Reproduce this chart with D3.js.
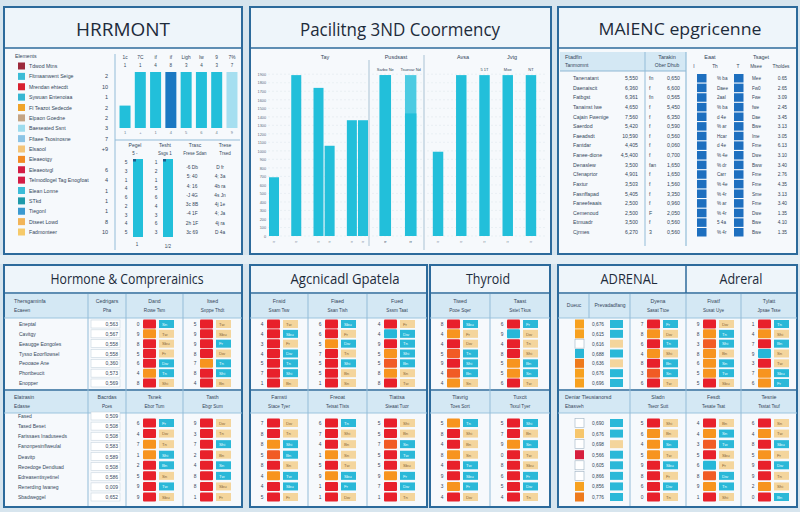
<!DOCTYPE html>
<html>
<head>
<meta charset="utf-8">
<script src="https://cdn.jsdelivr.net/npm/d3@7/dist/d3.min.js"></script>
<style>
  html, body { margin: 0; padding: 0; background: #d7e5ee; }
  svg { display: block; }
</style>
</head>
<body>
<svg id="chart"></svg>
<script>
// ---- values ----
const panelTitles = ['HRRMONT', 'Pacilitng 3ND Coormency', 'MAIENC epgricenne', 'Hormone & Comprerainics',
  'Agcnicadl Gpatela', 'Thyroid', 'ADRENAL', 'Adreral']

// top left: legend list
const legendLabels = ['Tdwod Mtns', 'Fltmaanwent Seige', 'Mrendan ehtecdt', 'Sywuan Entenoiaa', 'Fl Teazot Sedecde',
  'Elpaon Goedne', 'Baeseated Ssnt', 'Ffiaee Tsosinosne', 'Elsaool', 'Eleaeotgy', 'Eleaeotvgl',
  'Telmodlogel Tag Enogfoat', 'Elean Lonne', 'STkd', 'Tiegonl', 'Dtseet Lowd', 'Fadmonteer']
const legendCounts = ['', '2', '10', '1', '2', '2', '3', '7', '+9', '', '6', '4', '1', '1', '1', '8', '10']
const legendColors = ['#9c2a3c', '#3cbcd6', '#d8202e', '#36b6d2', '#f0a42a', '#c4a484', '#9edcee', '#8cc4e6',
  '#f4c478', '#f28a24', '#d41c44', '#d41c44', '#3cbcd8', '#1f9aaa', '#3c9ad0', '#f2b458', '#f6ca6a']

// top left: bars
const hormCols = ['1c', '7C', 'if', 'if', 'Ligh', 'Iw', '9', '7%']
const hormNums = ['1', '1', '4', '8', '3', '4', '3', '7']
const hormVals = [4, 10, 10, 10, 10, 10, 10, 10]
const hormTicks = ['1', '+', '1', '4', '5', '6', '4', '9']

// top left: small table under the bars
const subHeads = ['Pegel', 'Tesht', 'Trasc', 'Trese']
const subSubs = ['5  -', 'Ssgs  1', 'Frese Sdan', 'Trsed']
const subBarVals = [10, 10]
const subDigitsA = ['5', '3', '1', '4', '6', '2', '3', '4', '5']
const subDigitsB = ['1', '2', '1', '5', '6', '4', '3', '6', '3']
const subColC = ['-6 Db', '5: 40', '4: 16', '-J 4G', '3c 8B', '-4 1F', '2h 1F', '3c 69']
const subColD = ['D fr', '4; 3a', '4b ra', '4s Jn', '4j 1e', '4; Ja', '4j ra', 'D 4a']

// top middle: three bar groups
const payHeads = ['Tay', 'Pusdsast', 'Avsa', 'Jvtg']
const payLeftCats = ['a1', 'g1', 'a2', 'g2', 'a3', 'a4', 'g3', 'a5', 'a6']
const payLeftVals = [69, null, 189, null, 174, 106, null, 136, 136]
const payMidCats = ['Sarbo Ne', 'Tsuevar Nd']
const payMidVals = [189, 189]
const payMidLower = [189, 144]
const payRightCats = ['r1', 'r2', '5 1T', 'Moe', 'NT']
const payRightVals = [99, 189, 189, 189, 189]

// top right: table
const maiNames = ['Tanenatant', 'Daenaiscit', 'Fatbgst', 'Tanainst Iwe', 'Cajain Fwenige', 'Saerdod', 'Faeadsdt',
  'Fantdar', 'Fanee-dione', 'Denaslew', 'Cfenaprtor', 'Faxtur', 'Fasnffapad', 'Faneefeaais', 'Cemenoud', 'Etmuadr', 'Cjrmes']
const maiVal1 = ['5,550', '6,360', '6,361', '4,650', '7,560', '5,420', '10,590', '4,405', '4,5,400', '3,500', '4,901',
  '3,503', '5,405', '2,500', '2,500', '3,500', '6,270']
const maiFlag = ['fn', 'f', 'fn', 'f', 'f', 'f', 'f', 'f', 'f', 'fan', 'f', 'f', 'f', 'f', 'F', 'f', '3']
const maiVal2 = ['0,650', '6,600', '0,565', '5,450', '6,350', '0,590', '0,560', '0,060', '0,700', '1,650', '1,650',
  '1,560', '3,350', '0,960', '2,050', '0,560', '0,560']
const maiNote1 = ['% ba', 'Daee', '2aal', '% ba', 'd 4e', '% ar', 'Hcar', 'd 4e', '% 4e', '% dr', 'Carr', '% 4e',
  '% 4r', '% ar', '% 4r', '5 4a', '% 4r']
const maiNote2 = ['Mee', 'Fw0', 'Fwe', 'fwe', 'Dae', 'Bwe', 'Ime', 'Fme', 'Dwe', 'Bww', 'Fme', 'Fme', 'Sme', 'Fme',
  'Dwe', 'Bwe', 'Bwe']
const maiScore = ['0.65', '2.65', '3.09', '2.45', '3.45', '3.13', '3.05', '6.13', '3.10', '3.40', '2.76', '4.35',
  '3.13', '3.40', '1.35', '4.10', '1.35']

// bottom blocks: R red, O orange, D deep orange, C cyan ; tags: C cyan, T tan
const hcLabels1 = ['Eneptal', 'Cavitgy', 'Eeaugge Eongoles', 'Tysso Eoorflowsel', 'Peooaoe Ane', 'Phortbeucit', 'Enopper']
const hcValues1 = ['0,563', '0,567', '0,558', '0,558', '0,360', '0,573', '0,569']
const hcLabels2 = ['Fased', 'Tased Beset', 'Farissaes Inaduseeds', 'Fanonpesinflweulal', 'Deavitp',
  'Reoedoge Dendiuad', 'Edreasentisyetinel', 'Renerding Iwaneg', 'Sbadweggel']
const hcValues2 = ['0,509', '0,508', '0,508', '0,583', '0,589', '0,508', '0,586', '0,009', '0,652']
const hcHeads1 = [['Thersgaminfa', 'Ecaeen'], ['Cedrigars', 'Pha'], ['Dand', 'Rowe  Tsm'], ['Itsed', 'Sxppe  Thdt']]
const hcHeads2 = [['Elatrasin', 'Edasse'], ['Bacrdas', 'Pces'], ['Tsnek', 'Ebor  Tum'], ['Tasth', 'Ebgr  Sum']]
const hcBlocks1 = ['RORRROR', 'RRRRORR']
const hcTags1 = ['CTTTCCT', 'TTCTCCT']
const hcDigits1 = ['0985648', '5998784']
const hcBlocks2 = ['RROORRRR', 'RRRRRRRR']
const hcTags2 = ['CTTCCTCT', 'TTCTCCTT']
const hcDigits2 = ['64712599', '93724881']

const agHeads1 = [['Fnsid', 'Ssam  Tsw'], ['Fiaed', 'Ssan  Tish'], ['Fued', 'Sssm  Taat']]
const agHeads2 = [['Famsti', 'Stace  Tyer'], ['Freoat', 'Tetsat  Tlsts'], ['Tiattsa', 'Steaat  Tuor']]
const agBlocks1 = ['RRRRRRR', 'RRORRRR', 'RCRODOR']
const agTags1 = ['TCTCCCT', 'CTCTCTT', 'TCCCCTT']
const agDigits1 = ['4434571', '6657551', '4495588']
const agBlocks2 = ['RRODRORR', 'RRRORORR', 'RRDRRORR']
const agTags2 = ['TTCCTCCT', 'CTTTTCCT', 'TTCCTCCT']
const agDigits2 = ['78858445', '67415911', '55755971']

const thHeads1 = [['Tiwed', 'Pooe  Sqer'], ['Taast', 'Sstet  Tkus']]
const thHeads2 = [['Tlavrig', 'Toes  Sort'], ['Tuxcit', 'Tsxul  Tyer']]
const thBlocks1 = ['RORDRDO', 'RCRROOR']
const thTags1 = ['CTTCCCT', 'CTTTCCT']
const thDigits1 = ['8445944', '6948556']
const thBlocks2 = ['ORRORROR', 'RRORRRRR']
const thTags2 = ['CTTTCCCT', 'CTCTTCCT']
const thDigits2 = ['58484934', '57908654']

// adrenal: W white, L light orange squares in the first column
const adHeads1 = [['Dyena', 'Sasat  Ttoe'], ['Fivatf', 'Susat  Uye'], ['Tylatt', 'Jpsae  Tsse']]
const adHeads2 = [['Sladn', 'Tseor  Sutt'], ['Fesdt', 'Tesate  Tsat'], ['Tesnie', 'Tsstat  Tsuf']]
const adSquares1 = 'OOWCDOO'
const adValues1 = ['0,676', '0,615', '0,616', '0,688', '0,636', '0,676', '0,696']
const adValTags1 = 'CCTCTCC'
const adBlocks1 = ['RORORDR', 'RODOOOR', 'RORCROO']
const adTags1 = ['CTCTCCT', 'TCCTCCT', 'CTCTTCC']
const adDigits1 = ['7864836', '9838655', '1479376']
const adSquares2 = 'WLWRWWOD'
const adValues2 = ['0,690', '0,676', '0,698', '0,566', '0,605', '0,866', '0,856', '0,776']
const adValTags2 = 'CCTCCCCC'
const adBlocks2 = ['ROOORRRR', 'RODRCDOR', 'RORORROR']
const adTags2 = ['TTCTCTCT', 'TCCTTCCT', 'TTCTCTTC']
const adDigits2 = ['56459860', '44356891', '64859920']

// ---- drawing ----
const svg = d3.select('#chart').attr('width', 800).attr('height', 512)
const SANS = "'Liberation Sans', Arial, sans-serif"
const HEAD = "'Open Sans', 'Noto Sans', sans-serif"
const INK = '#34475b'
const FRAME = '#2c6a9b'
const SEP = '#93bcd8'
const CYAN = '#22bfda'
const BLOCK = { R: '#e8202b', O: '#f7941f', D: '#f15b25', C: '#26b7d8' }
const TAG = { C: '#2ab8d8', T: '#f4d59c' }
const SQ = { O: '#f7a11f', W: '#ffffff', C: '#2ab6d6', D: '#ee7a1c', R: '#d71f3d', L: '#f6c66c' }
const tagWords = ['Sn', 'Tw', 'Sbu', 'Fr', 'Dw', 'Tn', 'Shi', 'Bn']

svg.append('rect').attr('width', 800).attr('height', 512).attr('fill', '#d7e5ee')
svg.append('rect').attr('y', 255).attr('width', 800).attr('height', 9).attr('fill', '#e4eef4')

function put(g, x, y, s, size, o = {}) {
  return g.append('text').attr('x', x).attr('y', y)
    .attr('font-family', o.font || SANS).attr('font-size', size)
    .attr('fill', o.fill || INK).attr('text-anchor', o.anchor || 'start').text(s)
}
function rule(g, x1, y1, x2, y2, color, w) {
  g.append('line').attr('x1', x1).attr('y1', y1).attr('x2', x2).attr('y2', y2)
    .attr('stroke', color).attr('stroke-width', w)
}
function frame(x0, y0, x1, y1, barBottom) {
  const g = svg.append('g')
  g.append('rect').attr('x', x0).attr('y', y0).attr('width', x1 - x0).attr('height', y1 - y0)
    .attr('fill', '#f6f9fc').attr('stroke', FRAME).attr('stroke-width', 2)
  g.append('rect').attr('x', x0 + 1).attr('y', y0 + 1).attr('width', x1 - x0 - 2).attr('height', barBottom - y0 - 1)
    .attr('fill', '#eef5fa')
  rule(g, x0, barBottom, x1, barBottom, FRAME, 1.5)
  return g
}
function title(g, x, y, s, size, len) {
  put(g, x, y, s, size, { font: HEAD, fill: '#1d2b3a', anchor: 'middle' })
    .attr('textLength', len).attr('lengthAdjust', 'spacingAndGlyphs')
}
function texts(g, data, x, y, size, o = {}) {
  return g.append('g').selectAll('text').data(data).join('text')
    .attr('x', x).attr('y', y)
    .attr('font-family', SANS).attr('font-size', size)
    .attr('fill', o.fill || INK).attr('text-anchor', o.anchor || 'start')
    .text(d => d)
}

// ===== panel A : HRRMONT =====
const gA = frame(4, 7, 242, 254, 48)
title(gA, 123, 36, panelTitles[0], 19, 94)
rule(gA, 115, 54, 115, 250, SEP, 1)
rule(gA, 115, 140, 240, 140, SEP, 1)
put(gA, 15, 58, 'Elements', 5.2)

const legY = d3.scalePoint().domain(d3.range(legendLabels.length)).range([66, 232])
gA.append('g').selectAll('rect').data(legendColors).join('rect')
  .attr('x', 18).attr('y', (d, i) => legY(i) - 3.5).attr('width', 7).attr('height', 7).attr('fill', d => d)
texts(gA, legendLabels, 29, (d, i) => legY(i) + 2, 5.2)
texts(gA, legendCounts, 108, (d, i) => legY(i) + 2, 5.5, { anchor: 'end' })

const hx = d3.scaleBand().domain(d3.range(hormVals.length)).range([118, 239]).paddingInner(0.28).paddingOuter(0.1)
const hy = d3.scaleLinear().domain([0, 10]).range([128, 72])
gA.append('g').selectAll('rect').data(hormVals).join('rect')
  .attr('x', (d, i) => hx(i)).attr('y', d => hy(d)).attr('width', hx.bandwidth()).attr('height', d => hy(0) - hy(d))
  .attr('fill', (d, i) => i === 3 ? '#1b78c2' : i === 7 ? '#a6dff0' : CYAN)
texts(gA, hormCols, (d, i) => hx(i) + hx.bandwidth() / 2, 59, 4.8, { anchor: 'middle' })
texts(gA, hormNums, (d, i) => hx(i) + hx.bandwidth() / 2, 67, 4.5, { anchor: 'middle' })
texts(gA, hormTicks, (d, i) => hx(i) + hx.bandwidth() / 2, 134, 4, { anchor: 'middle', fill: '#6a7c8c' })

const sx = d3.scaleBand().domain(subHeads).range([120, 240])
const sRow = d3.scalePoint().domain(d3.range(subDigitsA.length)).range([162, 232])
const sRow2 = d3.scalePoint().domain(d3.range(subColC.length)).range([167, 232])
const sy = d3.scaleLinear().domain([0, 10]).range([237, 159])
texts(gA, subHeads, d => sx(d) + 15, 147, 5, { anchor: 'middle' })
texts(gA, subSubs, (d, i) => sx(subHeads[i]) + 15, 154.5, 4.5, { anchor: 'middle' })
gA.append('g').selectAll('rect').data(subBarVals).join('rect')
  .attr('x', (d, i) => sx(subHeads[i]) + 13).attr('y', d => sy(d)).attr('width', 10).attr('height', d => sy(0) - sy(d))
  .attr('fill', CYAN)
gA.append('g').selectAll('rect').data(subBarVals).join('rect')
  .attr('x', (d, i) => sx(subHeads[i]) + 13).attr('y', d => sy(d)).attr('width', 3).attr('height', 2.5)
  .attr('fill', '#1e5f8c')
texts(gA, subDigitsA, sx(subHeads[0]) + 6, (d, i) => sRow(i) + 2, 4.8, { anchor: 'middle' })
texts(gA, subDigitsB, sx(subHeads[1]) + 6, (d, i) => sRow(i) + 2, 4.8, { anchor: 'middle' })
texts(gA, subColC, sx(subHeads[2]) + 12, (d, i) => sRow2(i) + 2, 4.8, { anchor: 'middle' })
texts(gA, subColD, sx(subHeads[3]) + 10, (d, i) => sRow2(i) + 2, 4.8, { anchor: 'middle' })
put(gA, 137, 246, '1', 4.5, { anchor: 'middle' })
put(gA, 168, 248, '1/2', 4.5, { anchor: 'middle' })

// ===== panel B : bars =====
const gB = frame(250, 7, 551, 254, 48)
title(gB, 400, 36, panelTitles[1], 18, 200)
const payY = d3.scaleLinear().domain([0, 195]).range([236, 70])
const payTicks = d3.range(0, 191, 10)
const paySections = [[268, 368], [372, 423], [427, 547]]
gB.append('g').selectAll('line').data(paySections.flatMap(s => payTicks.map(t => [s, t]))).join('line')
  .attr('x1', d => d[0][0]).attr('x2', d => d[0][1]).attr('y1', d => payY(d[1])).attr('y2', d => payY(d[1]))
  .attr('stroke', '#e1e9ef').attr('stroke-width', 0.6).attr('stroke-dasharray', '2,2')
gB.append('g').attr('transform', 'translate(267,0)')
  .call(d3.axisLeft(payY).tickValues(payTicks).tickSize(0).tickPadding(1).tickFormat(d => d * 10))
  .call(g => g.select('.domain').remove())
  .selectAll('text').attr('font-size', 3.8).attr('fill', '#5a6b7b').attr('font-family', SANS)
rule(gB, 369, 60, 369, 246, '#a9c2d4', 1)
rule(gB, 424, 55, 424, 250, '#a9c2d4', 1)

const plx = d3.scaleBand().domain(payLeftCats).range([269, 368]).paddingInner(0.1)
const pmx = d3.scaleBand().domain(payMidCats).range([372, 424]).paddingInner(0.55).paddingOuter(0.3)
const prx = d3.scaleBand().domain(payRightCats).range([427, 542]).paddingInner(0.55).paddingOuter(0.25)
function payBars(scale, cats, vals, fill) {
  const rows = cats.map((c, i) => ({ c, v: vals[i] })).filter(d => d.v != null)
  gB.append('g').selectAll('rect').data(rows).join('rect')
    .attr('x', d => scale(d.c)).attr('y', d => payY(d.v)).attr('width', scale.bandwidth())
    .attr('height', d => payY(0) - payY(d.v)).attr('fill', fill)
  gB.append('g').selectAll('text').data(rows).join('text')
    .attr('x', d => scale(d.c) + scale.bandwidth() / 2).attr('y', 243).attr('text-anchor', 'middle')
    .attr('font-family', SANS).attr('font-size', 3.5).attr('fill', '#7a8a98').text('rr')
}
payBars(plx, payLeftCats, payLeftVals, CYAN)
payBars(pmx, payMidCats, payMidVals, '#4ccbe2')
payBars(pmx, payMidCats, payMidLower, CYAN)
payBars(prx, payRightCats, payRightVals, CYAN)
put(gB, 325, 59, payHeads[0], 5.5, { anchor: 'middle' })
put(gB, 396, 59, payHeads[1], 5.5, { anchor: 'middle' })
put(gB, 463, 59, payHeads[2], 5.5, { anchor: 'middle' })
put(gB, 512, 59, payHeads[3], 5.5, { anchor: 'middle' })
texts(gB, payMidCats, d => pmx(d) + pmx.bandwidth() / 2, 71, 4, { anchor: 'middle' })
texts(gB, payRightCats.slice(2), d => prx(d) + prx.bandwidth() / 2, 71, 4, { anchor: 'middle' })

// ===== panel C : table =====
const gC = frame(558, 7, 797, 254, 48)
title(gC, 680, 35, panelTitles[2], 17, 163)
gC.append('rect').attr('x', 560).attr('y', 52).attr('width', 126).attr('height', 19).attr('fill', '#d4e8f4')
rule(gC, 560, 71, 686, 71, '#8fb8d4', 1)
rule(gC, 645, 52, 645, 246, SEP, 1)
rule(gC, 686, 52, 686, 246, SEP, 1.2)
put(gC, 565, 59, 'Ftadfin', 5.5)
put(gC, 565, 67, 'Tanmomnt', 5)
put(gC, 667, 59, 'Tarakin', 5.5, { anchor: 'middle' })
put(gC, 667, 67, 'Ober   Dhub', 5, { anchor: 'middle' })
put(gC, 710, 59, 'Eaat', 5.5, { anchor: 'middle' })
put(gC, 761, 59, 'Tsaget', 5.5, { anchor: 'middle' })
;[['I', 694], ['Th', 715], ['T', 738], ['Msee', 756], ['Tholdes', 781]].forEach(d => put(gC, d[1], 68, d[0], 4.8, { anchor: 'middle' }))

const maiY = d3.scalePoint().domain(d3.range(maiNames.length)).range([78, 232])
texts(gC, maiNames, 573, (d, i) => maiY(i) + 2, 5.2)
texts(gC, maiVal1, 638, (d, i) => maiY(i) + 2, 5.2, { anchor: 'end' })
texts(gC, maiFlag, 649, (d, i) => maiY(i) + 2, 5.2)
texts(gC, maiVal2, 680, (d, i) => maiY(i) + 2, 5.2, { anchor: 'end' })
gC.append('g').selectAll('rect').data(maiNames.flatMap((d, i) => [[i, 697], [i, 734]])).join('rect')
  .attr('x', d => d[1]).attr('y', d => maiY(d[0]) - 4).attr('width', 9.5).attr('height', 8.5).attr('fill', '#1d6fbf')
texts(gC, maiNote1, 717, (d, i) => maiY(i) + 2, 4.6)
texts(gC, maiNote2, 752, (d, i) => maiY(i) + 2, 4.6)
texts(gC, maiScore, 787, (d, i) => maiY(i) + 2, 4.8, { anchor: 'end' })

// ===== bottom panels =====
const rowY1 = d3.scalePoint().domain(d3.range(7)).range([324, 383])
const rowY2 = d3.scalePoint().domain(d3.range(8)).range([423, 497])

function blockCol(g, x0, rowY, blocks, tags, digits, k) {
  const rows = blocks.split('').map((b, i) => ({ b, t: tags[i], d: digits[i], i }))
  const c = g.append('g')
  c.selectAll('text.d').data(rows).join('text').attr('class', 'd')
    .attr('x', x0 + 12).attr('y', r => rowY(r.i) + 2).attr('text-anchor', 'middle')
    .attr('font-family', SANS).attr('font-size', 4.8).attr('fill', INK).text(r => r.d)
  c.selectAll('rect.b').data(rows).join('rect').attr('class', 'b')
    .attr('x', x0 + 17).attr('y', r => rowY(r.i) - 4.5).attr('width', 13).attr('height', 9).attr('rx', 1)
    .attr('fill', r => BLOCK[r.b])
  c.selectAll('rect.t').data(rows).join('rect').attr('class', 't')
    .attr('x', x0 + 33).attr('y', r => rowY(r.i) - 4).attr('width', 15).attr('height', 8)
    .attr('fill', r => TAG[r.t])
  c.selectAll('text.t').data(rows).join('text').attr('class', 't')
    .attr('x', x0 + 36).attr('y', r => rowY(r.i) + 1.8)
    .attr('font-family', SANS).attr('font-size', 4.3)
    .attr('fill', r => r.t === 'C' ? '#e6fbff' : '#8a6a3a')
    .text(r => tagWords[(r.i + k) % tagWords.length])
}
function headBand(g, x0, x1, y0, y1) {
  g.append('rect').attr('x', x0 + 1).attr('y', y0).attr('width', x1 - x0 - 2).attr('height', y1 - y0).attr('fill', '#d4e8f4')
  rule(g, x0, y1, x1, y1, '#9cc5de', 1)
}
function headTexts(g, seps, heads, y) {
  heads.forEach((h, i) => {
    const cx = (seps[i] + seps[i + 1]) / 2
    put(g, cx, y, h[0], 5.2, { anchor: 'middle' })
    put(g, cx, y + 9, h[1], 4.6, { anchor: 'middle' })
  })
}
function bottomFrame(x0, x1) {
  const g = frame(x0, 265, x1, 507, 293)
  headBand(g, x0, x1, 294, 318)
  headBand(g, x0, x1, 391, 413)
  rule(g, x0, 390, x1, 390, FRAME, 1.5)
  return g
}
function seps(g, xs) {
  xs.forEach(x => rule(g, x, 294, x, 506, SEP, 1))
}

// panel D
const dSeps = [4, 88, 126, 183, 242]
const gD = bottomFrame(4, 242)
title(gD, 127, 284, panelTitles[3], 15, 153)
seps(gD, dSeps.slice(1, -1))
put(gD, 14, 303, hcHeads1[0][0], 5.2); put(gD, 14, 312, hcHeads1[0][1], 4.8)
put(gD, 14, 399, hcHeads2[0][0], 5.2); put(gD, 14, 408, hcHeads2[0][1], 4.8)
headTexts(gD, dSeps.slice(1), hcHeads1.slice(1), 303)
headTexts(gD, dSeps.slice(1), hcHeads2.slice(1), 399)
const rowL2 = d3.scalePoint().domain(d3.range(hcLabels2.length)).range([416, 497])
texts(gD, hcLabels1, 19, (d, i) => rowY1(i) + 2, 5)
texts(gD, hcLabels2, 18, (d, i) => rowL2(i) + 2, 5)
;[[hcValues1, rowY1], [hcValues2, rowL2]].forEach(([vals, ry]) => {
  gD.append('g').selectAll('rect').data(vals).join('rect')
    .attr('x', 91).attr('y', (d, i) => ry(i) - 4).attr('width', 29).attr('height', 8)
    .attr('fill', '#ffffff').attr('stroke', '#c9d6e0').attr('stroke-width', 0.6)
  texts(gD, vals, 118, (d, i) => ry(i) + 2, 5, { anchor: 'end' })
})
hcBlocks1.forEach((b, j) => blockCol(gD, dSeps[2 + j], rowY1, b, hcTags1[j], hcDigits1[j], j))
hcBlocks2.forEach((b, j) => blockCol(gD, dSeps[2 + j], rowY2, b, hcTags2[j], hcDigits2[j], j + 3))

// panel E
const eSeps = [250, 308, 367, 427]
const gE = bottomFrame(250, 427)
title(gE, 345, 284, panelTitles[4], 15, 109)
seps(gE, eSeps.slice(1, -1))
headTexts(gE, eSeps, agHeads1, 303)
headTexts(gE, eSeps, agHeads2, 399)
agBlocks1.forEach((b, j) => blockCol(gE, eSeps[j], rowY1, b, agTags1[j], agDigits1[j], j + 1))
agBlocks2.forEach((b, j) => blockCol(gE, eSeps[j], rowY2, b, agTags2[j], agDigits2[j], j + 4))

// panel F
const fSeps = [430, 490, 550]
const gF = bottomFrame(430, 550)
title(gF, 488, 284, panelTitles[5], 15, 44)
seps(gF, fSeps.slice(1, -1))
headTexts(gF, fSeps, thHeads1, 303)
headTexts(gF, fSeps, thHeads2, 399)
thBlocks1.forEach((b, j) => blockCol(gF, fSeps[j], rowY1, b, thTags1[j], thDigits1[j], j + 2))
thBlocks2.forEach((b, j) => blockCol(gF, fSeps[j], rowY2, b, thTags2[j], thDigits2[j], j + 5))

// panel G
const gSeps = [558, 589, 630, 686, 741, 797]
const gG = bottomFrame(558, 797)
rule(gG, 686, 265, 686, 293, FRAME, 1.5)
title(gG, 629, 284, panelTitles[6], 15, 57)
title(gG, 741, 284, panelTitles[7], 15, 43)
seps(gG, gSeps.slice(2, -1))
rule(gG, 589, 294, 589, 318, SEP, 1)
put(gG, 574, 307, 'Dueuc', 5, { anchor: 'middle' })
put(gG, 610, 307, 'Prevadadfang', 5, { anchor: 'middle' })
put(gG, 565, 399, 'Deniar Tleusianorsd', 5.2)
put(gG, 565, 408, 'Ebasveh', 4.8)
headTexts(gG, gSeps.slice(2), adHeads1, 303)
headTexts(gG, gSeps.slice(2), adHeads2, 399)
;[[adSquares1, adValues1, adValTags1, rowY1], [adSquares2, adValues2, adValTags2, rowY2]].forEach(([sq, vals, vt, ry]) => {
  gG.append('g').selectAll('rect').data(sq.split('')).join('rect')
    .attr('x', 575).attr('y', (d, i) => ry(i) - 4.5).attr('width', 9).attr('height', 9)
    .attr('fill', d => SQ[d]).attr('stroke', d => d === 'W' ? '#9fb2c2' : 'none').attr('stroke-width', 0.6)
  texts(gG, vals, 592, (d, i) => ry(i) + 2, 4.8)
  gG.append('g').selectAll('rect').data(vt.split('')).join('rect')
    .attr('x', 610).attr('y', (d, i) => ry(i) - 4).attr('width', 13).attr('height', 8).attr('fill', d => TAG[d])
})
adBlocks1.forEach((b, j) => blockCol(gG, gSeps[2 + j], rowY1, b, adTags1[j], adDigits1[j], j + 3))
adBlocks2.forEach((b, j) => blockCol(gG, gSeps[2 + j], rowY2, b, adTags2[j], adDigits2[j], j + 6))
</script>
</body>
</html>
